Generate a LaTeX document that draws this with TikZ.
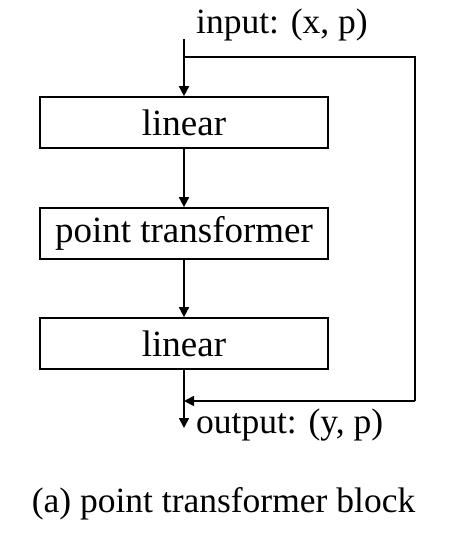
\documentclass[tikz,border=0pt]{standalone}
\usepackage{fontspec}
\setmainfont{Liberation Serif}
\usetikzlibrary{arrows.meta}
\begin{document}
\begin{tikzpicture}[x=1pt,y=-1pt,
  blk/.style={draw, line width=1.7pt, minimum width=288pt, minimum height=51pt, inner sep=0pt, font=\fontsize{37}{40}\selectfont},
  lbl/.style={inner sep=0pt, font=\fontsize{35.5}{40}\selectfont},
  conn/.style={line width=1.7pt, -{Triangle[length=10pt,width=10pt]}},
  wire/.style={line width=1.7pt}]
\useasboundingbox[fill=white] (0,0) rectangle (451,536);
\node[blk] (l1) at (184,122.5) {linear};
\node[blk] (pt) at (184,233.5) {point transformer};
\node[blk] (l2) at (184,343.5) {linear};
\coordinate (in) at (184,39);
\coordinate (br) at (184,57);
\coordinate (rt) at (415,57);
\coordinate (rb) at (415,401);
\coordinate (mg) at (184,401);
\coordinate (out) at (184,428);
\node[lbl, anchor=base west] (intext) at (196,33) {input: (x, p)};
\node[lbl, anchor=base west] (outtext) at (196,433) {output: (y, p)};
\node[lbl, anchor=base] (cap) at (223.5,512) {(a) point transformer block};
\draw[conn] (in) -- (l1.north);
\draw[conn] (l1.south) -- (pt.north);
\draw[conn] (pt.south) -- (l2.north);
\draw[conn] (l2.south) -- (out);
\draw[wire] (br) -- (rt) -- (rb);
\draw[conn] (rb) -- (mg);
\end{tikzpicture}
\end{document}
